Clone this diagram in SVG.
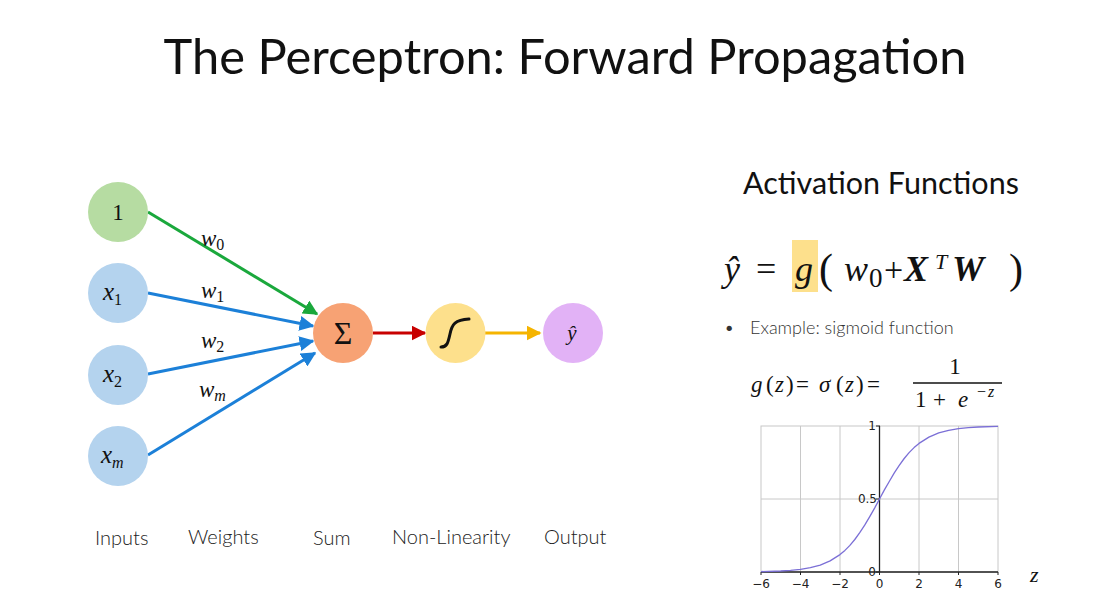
<svg xmlns="http://www.w3.org/2000/svg" width="1119" height="595" viewBox="0 0 1119 595">
<style>
.title{font-family:Lato,"Liberation Sans",sans-serif;font-size:48.8px;fill:#111}
.sub{font-family:Lato,"Liberation Sans",sans-serif;font-size:30.5px;fill:#111}
.lbl{font-family:Lato,"Liberation Sans",sans-serif;font-size:20px;fill:#222;font-weight:300}
.body{font-family:Lato,"Liberation Sans",sans-serif;font-size:18px;fill:#333;font-weight:300}
.m{font-family:"Liberation Serif","DejaVu Serif",serif;font-style:italic;fill:#111}
.mr{font-family:"Liberation Serif","DejaVu Serif",serif;fill:#111}
.tick{font-family:"DejaVu Sans",sans-serif;font-size:12px;fill:#222}
.grid{stroke:#c8c8c8;stroke-width:1;fill:none}
</style>
<defs>
<marker id="ag" viewBox="0 0 10 10" refX="9" refY="5" markerWidth="5" markerHeight="5" orient="auto" markerUnits="strokeWidth"><path d="M0,0 L10,5 L0,10 z" fill="#1aa83c"/></marker>
<marker id="ab" viewBox="0 0 10 10" refX="9" refY="5" markerWidth="5" markerHeight="5" orient="auto" markerUnits="strokeWidth"><path d="M0,0 L10,5 L0,10 z" fill="#1c80d8"/></marker>
<marker id="ar" viewBox="0 0 10 10" refX="9" refY="5" markerWidth="5" markerHeight="5" orient="auto" markerUnits="strokeWidth"><path d="M0,0 L10,5 L0,10 z" fill="#c80000"/></marker>
<marker id="ao" viewBox="0 0 10 10" refX="9" refY="5" markerWidth="5" markerHeight="5" orient="auto" markerUnits="strokeWidth"><path d="M0,0 L10,5 L0,10 z" fill="#f5b400"/></marker>
</defs>
<rect width="1119" height="595" fill="#fff"/>
<text class="title" x="565" y="74" text-anchor="middle">The Perceptron: Forward Propagation</text>

<g id="connectors" stroke-width="3" fill="none">
<line x1="148" y1="212" x2="317" y2="314" stroke="#1aa83c" marker-end="url(#ag)"/>
<line x1="148" y1="293" x2="313" y2="326" stroke="#1c80d8" marker-end="url(#ab)"/>
<line x1="148" y1="374" x2="313" y2="341" stroke="#1c80d8" marker-end="url(#ab)"/>
<line x1="148" y1="455" x2="315" y2="353" stroke="#1c80d8" marker-end="url(#ab)"/>
<line x1="373" y1="333" x2="425" y2="333" stroke="#c80000" marker-end="url(#ar)"/>
<line x1="485" y1="333" x2="540" y2="333" stroke="#f5b400" marker-end="url(#ao)"/>
</g>
<g id="weights">
<text class="m" x="201" y="246" font-size="23">w<tspan font-size="16" font-style="normal" dy="4">0</tspan></text>
<text class="m" x="201" y="298" font-size="23">w<tspan font-size="16" font-style="normal" dy="4">1</tspan></text>
<text class="m" x="201" y="348" font-size="23">w<tspan font-size="16" font-style="normal" dy="4">2</tspan></text>
<text class="m" x="199" y="397" font-size="23">w<tspan font-size="16" dy="4">m</tspan></text>
</g>

<g id="node-bias"><circle cx="118" cy="212" r="30" fill="#b6dca2"/><text class="mr" x="118" y="220" font-size="23" text-anchor="middle">1</text></g>
<g id="node-x1"><circle cx="118" cy="293" r="30" fill="#b4d3ee"/><text class="m" x="103" y="300" font-size="25">x<tspan font-size="16" font-style="normal" dy="5">1</tspan></text></g>
<g id="node-x2"><circle cx="118" cy="375" r="30" fill="#b4d3ee"/><text class="m" x="103" y="382" font-size="25">x<tspan font-size="16" font-style="normal" dy="5">2</tspan></text></g>
<g id="node-xm"><circle cx="118" cy="456" r="30" fill="#b4d3ee"/><text class="m" x="101" y="463" font-size="25">x<tspan font-size="16" dy="5">m</tspan></text></g>
<g id="node-sum"><circle cx="343" cy="333" r="30" fill="#f7a274"/><text class="mr" x="343" y="344" font-size="32" text-anchor="middle">Σ</text></g>
<g id="node-nonlin"><circle cx="455.5" cy="333" r="30" fill="#fde08c"/><path d="M441,347 C447,347 448,343 450,334 C452,324 455,320 469,319" stroke="#111" stroke-width="3" fill="none" stroke-linecap="round"/></g>
<g id="node-output"><circle cx="573" cy="333" r="30" fill="#e2b2f6"/><text class="m" x="572" y="340" font-size="21" text-anchor="middle">ŷ</text></g>

<g id="labels">
<text class="lbl" x="95" y="545">Inputs</text>
<text class="lbl" x="188" y="544">Weights</text>
<text class="lbl" x="313" y="545">Sum</text>
<text class="lbl" x="392" y="544">Non-Linearity</text>
<text class="lbl" x="544" y="544">Output</text>
</g>

<g id="activation">
<text class="sub" x="743" y="194">Activation Functions</text>
<rect x="792" y="240" width="26" height="52" fill="#fde08c"/>
<text class="m" x="732" y="281" font-size="36" text-anchor="middle">ŷ</text>
<text class="mr" x="756" y="281" font-size="36">=</text>
<text class="m" x="795" y="281" font-size="36">g</text>
<text class="mr" x="819" y="283" font-size="42">(</text>
<text class="m" x="844" y="281" font-size="36">w</text>
<text class="mr" x="869" y="287" font-size="27">0</text>
<text class="mr" x="884" y="281" font-size="34">+</text>
<text class="m" x="904" y="281" font-size="36" font-weight="bold">X</text>
<text class="m" x="935" y="269" font-size="22">T</text>
<text class="m" x="952" y="281" font-size="36" font-weight="bold">W</text>
<text class="mr" x="1009" y="283" font-size="42">)</text>
<text class="body" x="724" y="334">•</text>
<text class="body" x="750" y="334">Example: sigmoid function</text>
<g font-size="23">
<text class="m" x="751" y="392">g</text>
<text class="mr" x="766" y="392">(</text>
<text class="m" x="775" y="392">z</text>
<text class="mr" x="786" y="392">)</text>
<text class="mr" x="796" y="392">=</text>
<text class="m" x="819" y="392">σ</text>
<text class="mr" x="836" y="392">(</text>
<text class="m" x="845" y="392">z</text>
<text class="mr" x="856" y="392">)</text>
<text class="mr" x="867" y="392">=</text>
<text class="mr" x="955" y="374" text-anchor="middle">1</text>
<text class="mr" x="915" y="407">1</text>
<text class="mr" x="933" y="407">+</text>
<text class="m" x="958" y="407">e</text>
<text class="mr" x="977" y="397" font-size="16">−</text>
<text class="m" x="988" y="397" font-size="16">z</text>
</g>
<line x1="913" y1="383" x2="1002" y2="383" stroke="#111" stroke-width="1.3"/>
</g>

<g id="plot">
<rect x="761" y="426" width="237" height="146" class="grid"/>
<path class="grid" d="M800.5,426V572M840,426V572M919,426V572M958.5,426V572M761,499H998"/>
<line x1="879.5" y1="426" x2="879.5" y2="572" stroke="#222" stroke-width="1.3"/>
<line x1="761" y1="572" x2="998" y2="572" stroke="#222" stroke-width="1.3"/>
<path d="M761,572v3M800.5,572v3M840,572v3M879.5,572v3M919,572v3M958.5,572v3M998,572v3M876,426h4M876,499h4M876,572h4" stroke="#222" stroke-width="1"/>
<path d="M761,571.6 L780.75,571 L790.6,570.4 L800.5,569.4 L810.4,567.7 L820.25,565.1 L830.1,560.9 L840,554.6 L844.9,550.4 L849.9,545.4 L854.8,539.5 L859.75,532.7 L864.7,525.2 L869.6,516.8 L874.6,508.1 L879.5,499 L884.4,489.9 L889.4,481.2 L894.3,472.8 L899.25,465.3 L904.2,458.5 L909.1,452.6 L914.1,447.6 L919,443.4 L928.9,437.1 L938.75,432.9 L948.6,430.3 L958.5,428.6 L968.4,427.6 L978.25,427 L998,426.4" fill="none" stroke="#7b6fd6" stroke-width="1.3" stroke-linejoin="round"/>
<g class="tick" text-anchor="middle">
<text x="761" y="588">−6</text><text x="800.5" y="588">−4</text><text x="840" y="588">−2</text><text x="879.5" y="588">0</text><text x="919" y="588">2</text><text x="958.5" y="588">4</text><text x="998" y="588">6</text>
</g>
<g class="tick" text-anchor="end">
<text x="876" y="430">1</text><text x="877" y="503">0.5</text><text x="876" y="576">0</text>
</g>
<text class="m" x="1030" y="582" font-size="22">z</text>
</g>
</svg>
